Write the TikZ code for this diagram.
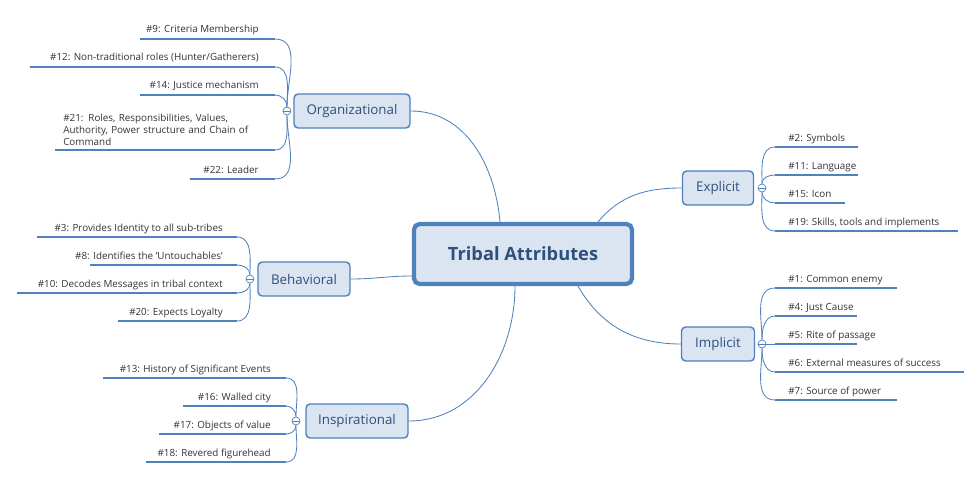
\documentclass[tikz,border=0pt]{standalone}
\usepackage{fontspec}
\setmainfont{Open Sans}
\usetikzlibrary{calc}
\definecolor{mapblue}{HTML}{4F81BD}
\definecolor{mapfill}{HTML}{DBE5F1}
\definecolor{maptext}{HTML}{2F4F7F}
\definecolor{leaftext}{HTML}{333333}
\tikzset{
  title/.style={draw=mapblue, line width=3pt, fill=mapfill, rounded corners=4pt,
    minimum width=5.45cm, minimum height=1.5cm, text=maptext,
    font=\fontsize{13}{15}\selectfont\bfseries},
  branch/.style={draw=mapblue, line width=1pt, fill=mapfill, rounded corners=3pt,
    minimum height=0.85cm, text=maptext, font=\fontsize{9.5}{11}\selectfont},
  leaf/.style={inner sep=0pt, text=leaftext, font=\fontsize{7}{8.4}\selectfont},
  uline/.style={mapblue, line width=1.6pt},
  link/.style={mapblue, line width=0.6pt},
  fold/.style={circle, draw=mapblue, line width=0.5pt, fill=white, inner sep=0pt,
    minimum size=0.2cm,
    path picture={\draw[mapblue, line width=0.4pt] ($(path picture bounding box.west)+(0.05,0)$) -- ($(path picture bounding box.east)+(-0.05,0)$);}}
}
\begin{document}
\begin{tikzpicture}[x=0.025cm, y=0.025cm]
  \useasboundingbox (0,0) rectangle (979,-479);
  % centre and branches
  \node[title] (tribe) at (523,-254) {Tribal Attributes};
  \node[branch, minimum width=2.9cm] (org) at (352,-111) {Organizational};
  \node[branch, minimum width=2.3cm] (beh) at (304,-279) {Behavioral};
  \node[branch, minimum width=2.55cm] (insp) at (357,-421) {Inspirational};
  \node[branch, minimum width=1.775cm] (expl) at (718,-188) {Explicit};
  \node[branch, minimum width=1.825cm] (impl) at (718,-344) {Implicit};
  \draw[link] (org.east) to[out=0, in=95] ($(tribe.north)+(-23,0)$);
  \draw[link] (beh.east) to[out=0, in=180] ($(tribe.west)+(0,-22)$);
  \draw[link] (insp.east) to[out=0, in=-90] ($(tribe.south)+(-8,0)$);
  \draw[link] (expl.west) to[out=180, in=50] ($(tribe.north)+(75,0)$);
  \draw[link] (impl.west) to[out=180, in=-60] ($(tribe.south)+(55,0)$);
  % fold markers
  \node[fold] (forg) at (287,-111) {};
  \node[fold] (fbeh) at (250,-279) {};
  \node[fold] (finsp) at (296,-421) {};
  \node[fold] (fexpl) at (762,-188) {};
  \node[fold] (fimpl) at (762,-344) {};
  % organizational
  \foreach \y/\xl/\t [count=\i] in {39/140/{\#9: Criteria Membership},
      67/30/{\#12: Non-traditional roles (Hunter/Gatherers)},
      95/140/{\#14: Justice mechanism}, 179/190/{\#22: Leader}} {
    \pgfmathtruncatemacro\ang{90*sign(111-\y)}
    \draw[uline] (\xl,-\y) -- (275,-\y) coordinate (o\i);
    \node[leaf, anchor=base east] at (259,-\y+6) {\t};
    \draw[link] (forg) to[out=\ang, in=0] (o\i);
  }
  \draw[uline] (55,-150) -- (275,-150) coordinate (o5);
  \node[leaf, anchor=south west, align=left, text width=5.3cm] at (63,-146)
    {\#21: Roles, Responsibilities, Values,\\Authority, Power structure and Chain of\\Command};
  \draw[link] (forg) to[out=-90, in=0] (o5);
  % behavioral
  \foreach \y/\xl/\t [count=\i] in {237/37/{\#3: Provides Identity to all sub-tribes},
      265/90/{\#8: Identifies the 'Untouchables'},
      293/17/{\#10: Decodes Messages in tribal context},
      321/118/{\#20: Expects Loyalty}} {
    \pgfmathtruncatemacro\ang{90*sign(279-\y)}
    \draw[uline] (\xl,-\y) -- (237,-\y) coordinate (b\i);
    \node[leaf, anchor=base east] at (223,-\y+6) {\t};
    \draw[link] (fbeh) to[out=\ang, in=0] (b\i);
  }
  % inspirational
  \foreach \y/\xl/\t [count=\i] in {378/103/{\#13: History of Significant Events},
      406/183/{\#16: Walled city}, 434/159/{\#17: Objects of value},
      462/146/{\#18: Revered figurehead}} {
    \pgfmathtruncatemacro\ang{90*sign(421-\y)}
    \draw[uline] (\xl,-\y) -- (286,-\y) coordinate (n\i);
    \node[leaf, anchor=base east] at (271,-\y+6) {\t};
    \draw[link] (finsp) to[out=\ang, in=0] (n\i);
  }
  % explicit
  \foreach \y/\xr/\t [count=\i] in {147/858/{\#2: Symbols}, 175/858/{\#11: Language},
      203/845/{\#15: Icon}, 231/958/{\#19: Skills, tools and implements}} {
    \pgfmathtruncatemacro\ang{90*sign(188-\y)}
    \draw[uline] (775,-\y) coordinate (e\i) -- (\xr,-\y);
    \node[leaf, anchor=base west] at (788,-\y+6) {\t};
    \draw[link] (fexpl) to[out=\ang, in=180] (e\i);
  }
  % implicit
  \foreach \y/\xr/\t [count=\i] in {288/897/{\#1: Common enemy}, 316/857/{\#4: Just Cause},
      344/857/{\#5: Rite of passage}, 372/964/{\#6: External measures of success},
      400/897/{\#7: Source of power}} {
    \pgfmathtruncatemacro\ang{90*sign(344-\y)}
    \draw[uline] (775,-\y) coordinate (m\i) -- (\xr,-\y);
    \node[leaf, anchor=base west] at (788,-\y+6) {\t};
    \ifnum\i=3
      \draw[link] (fimpl) -- (m\i);
    \else
      \draw[link] (fimpl) to[out=\ang, in=180] (m\i);
    \fi
  }
\end{tikzpicture}
\end{document}
